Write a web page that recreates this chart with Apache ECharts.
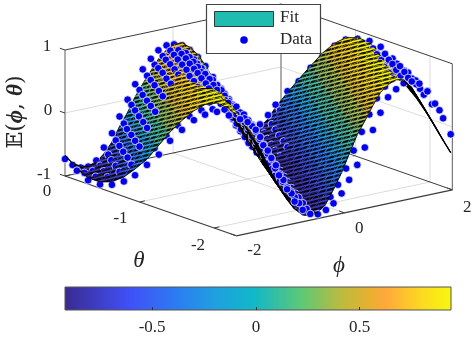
<!DOCTYPE html>
<html>
<head>
<meta charset="utf-8">
<style>html,body{margin:0;padding:0;background:#fff}#chart{width:474px;height:353px}</style>
<script src="https://cdn.jsdelivr.net/npm/echarts@6/dist/echarts.min.js"></script>
</head>
<body>
<div id="chart"></div>
<script>
// grid of the surface and of the dots
var phi = [-2,-1.86,-1.71,-1.57,-1.42,-1.28,-1.13,-0.99,-0.84,-0.7,-0.56,-0.41,-0.27,-0.12,0.02,0.17,0.31,0.46,0.6,0.74,0.89,1.03,1.18,1.32,1.47,1.61,1.76,1.9];
var theta = [0,-0.16,-0.31,-0.47,-0.63,-0.79,-0.94,-1.1,-1.26,-1.41,-1.57,-1.73,-1.88,-2.04,-2.2,-2.35];

// Fit, one row per theta
var fitZ = [
[-.67,-.82,-.90,-.92,-.88,-.78,-.62,-.40,-.20,.02,.20,.38,.54,.66,.72,.72,.62,.48,.28,.05,-.20,-.45,-.65,-.80,-.88,-.88,-.78,-.62],
[-.82,-.90,-.90,-.83,-.72,-.62,-.42,-.20,.02,.25,.45,.62,.66,.68,.60,.44,.27,.08,-.07,-.34,-.56,-.74,-.86,-.90,-.87,-.76,-.56,-.32],
[-.90,-.90,-.83,-.71,-.60,-.38,-.15,.08,.30,.50,.66,.68,.68,.60,.44,.27,.08,-.07,-.34,-.56,-.74,-.86,-.90,-.87,-.76,-.56,-.32,-.05],
[-.90,-.83,-.70,-.58,-.36,-.12,.12,.33,.54,.69,.70,.69,.61,.46,.28,.08,-.07,-.34,-.56,-.74,-.86,-.90,-.87,-.76,-.56,-.32,-.05,.23],
[-.83,-.69,-.56,-.33,-.10,.14,.36,.56,.72,.72,.70,.61,.47,.29,.08,-.07,-.34,-.56,-.74,-.86,-.90,-.87,-.76,-.56,-.32,-.05,.23,.50],
[-.69,-.54,-.31,-.08,.17,.39,.60,.75,.73,.71,.62,.48,.30,.09,-.08,-.34,-.56,-.74,-.86,-.90,-.87,-.76,-.56,-.32,-.05,.23,.50,.72],
[-.50,-.30,-.06,.20,.42,.62,.76,.75,.73,.65,.50,.31,.09,-.08,-.34,-.56,-.74,-.86,-.90,-.87,-.76,-.56,-.32,-.05,.23,.50,.72,.87],
[-.28,-.02,.24,.47,.67,.81,.78,.75,.66,.52,.33,.10,-.08,-.34,-.56,-.74,-.86,-.90,-.87,-.76,-.56,-.32,-.05,.23,.50,.72,.87,.94],
[.01,.27,.50,.70,.84,.82,.78,.69,.55,.35,.11,-.08,-.34,-.56,-.74,-.86,-.90,-.87,-.76,-.56,-.32,-.05,.23,.50,.72,.87,.94,.93],
[.28,.52,.72,.86,.86,.83,.73,.58,.38,.13,-.08,-.34,-.56,-.74,-.86,-.90,-.87,-.76,-.56,-.32,-.05,.23,.50,.72,.87,.94,.93,.82],
[.53,.73,.87,.94,.92,.83,.67,.45,.19,-.08,-.34,-.56,-.74,-.86,-.90,-.87,-.76,-.56,-.32,-.05,.23,.50,.72,.87,.94,.93,.82,.66],
[.75,.89,.96,.94,.84,.68,.46,.19,-.09,-.34,-.56,-.74,-.86,-.90,-.87,-.76,-.56,-.32,-.05,.23,.50,.72,.87,.94,.93,.84,.66,.47],
[.91,.98,.96,.86,.70,.47,.20,-.09,-.34,-.56,-.74,-.86,-.90,-.87,-.76,-.56,-.32,-.05,.23,.50,.72,.87,.94,.93,.82,.64,.50,.32],
[1,.98,.88,.71,.48,.20,-.09,-.34,-.56,-.74,-.86,-.90,-.87,-.76,-.56,-.32,-.05,.23,.50,.72,.87,.94,.93,.80,.70,.56,.34,.11],
[.98,.88,.71,.48,.20,-.09,-.34,-.56,-.74,-.86,-.90,-.87,-.76,-.56,-.32,-.05,.23,.50,.72,.87,.94,.93,.88,.75,.55,.33,.09,-.14],
[.88,.71,.48,.20,-.09,-.34,-.56,-.74,-.86,-.90,-.87,-.76,-.56,-.32,-.05,.23,.42,.64,.82,.92,.97,.94,.79,.56,.32,.10,-.15,-.37]
];

// Data dots, one row per theta
var dataZ = [
[-.73,-.85,-.92,-.93,-.86,-.68,-.48,-.24,0,.22,.43,.57,.68,.73,.72,.68,.58,.44,.27,.07,-.14,-.35,-.55,-.72,-.82,-.84,-.72,-.58],
[-.85,-.91,-.91,-.85,-.70,-.50,-.26,.01,.22,.42,.57,.68,.74,.72,.65,.52,.35,.15,-.06,-.32,-.56,-.74,-.86,-.92,-.89,-.77,-.58,-.30],
[-.94,-.91,-.85,-.70,-.50,-.26,.01,.23,.44,.60,.71,.76,.75,.67,.54,.37,.16,-.06,-.33,-.57,-.75,-.87,-.92,-.89,-.77,-.60,-.37,-.08],
[-.94,-.85,-.70,-.50,-.26,.01,.23,.45,.62,.73,.78,.77,.69,.56,.38,.16,-.07,-.33,-.57,-.75,-.87,-.92,-.89,-.77,-.60,-.37,-.11,.20],
[-.88,-.70,-.50,-.26,.01,.24,.45,.62,.74,.79,.78,.70,.56,.38,.17,-.07,-.33,-.57,-.75,-.87,-.92,-.89,-.77,-.60,-.37,-.11,.16,.45],
[-.76,-.52,-.26,.01,.24,.46,.63,.75,.80,.79,.71,.57,.39,.17,-.07,-.33,-.57,-.75,-.87,-.92,-.89,-.77,-.60,-.37,-.11,.16,.41,.68],
[-.60,-.38,-.13,.13,.36,.55,.70,.79,.81,.77,.65,.48,.28,.05,-.20,-.44,-.66,-.82,-.91,-.91,-.84,-.69,-.49,-.25,.02,.29,.53,.84],
[-.37,-.13,.13,.36,.56,.71,.80,.82,.78,.66,.49,.29,.05,-.20,-.44,-.66,-.82,-.91,-.91,-.84,-.69,-.49,-.25,.02,.29,.53,.73,.92],
[-.14,.13,.36,.56,.71,.80,.83,.78,.67,.50,.29,.05,-.20,-.44,-.66,-.82,-.91,-.91,-.84,-.69,-.49,-.25,.02,.29,.53,.73,.86,.95],
[.14,.36,.57,.72,.81,.84,.79,.67,.50,.29,.05,-.20,-.44,-.66,-.82,-.91,-.91,-.84,-.69,-.49,-.25,.02,.29,.53,.73,.86,.92,.92],
[.38,.57,.73,.82,.85,.80,.68,.51,.29,.05,-.20,-.44,-.66,-.82,-.91,-.91,-.84,-.69,-.49,-.25,.02,.29,.53,.73,.86,.92,.90,.80],
[.60,.73,.83,.86,.81,.69,.51,.30,.05,-.20,-.44,-.66,-.82,-.91,-.91,-.84,-.69,-.49,-.25,.02,.29,.53,.73,.86,.92,.90,.81,.67],
[.75,.81,.87,.86,.77,.62,.42,.18,-.08,-.34,-.58,-.76,-.88,-.92,-.89,-.77,-.60,-.37,-.11,.16,.41,.64,.80,.90,.92,.86,.73,.58],
[.86,.87,.86,.77,.62,.42,.18,-.08,-.34,-.58,-.76,-.88,-.92,-.89,-.77,-.60,-.37,-.11,.16,.41,.64,.80,.90,.92,.86,.73,.54,.48],
[.87,.86,.77,.62,.42,.18,-.08,-.34,-.58,-.76,-.88,-.92,-.89,-.77,-.60,-.37,-.11,.16,.41,.64,.80,.90,.92,.86,.73,.54,.36,.24],
[.87,.80,.65,.38,.15,-.15,-.40,-.62,-.78,-.87,-.90,-.86,-.78,-.65,-.46,-.25,0,.25,.50,.72,.82,.89,.89,.83,.68,.46,.20,-.08]
];

// axes
var phiTicks = [-2, 0, 2];
var thetaTicks = [0, -1, -2];
var zTicks = [-1, 0, 1];
var barTicks = [-0.5, 0, 0.5];
var barLimits = [-0.92, 0.94];
var barStops = [0, .09, .17, .30, .39, .49, .61, .71, .79, .83, .92, 1];
var barColors = ['#3a2a8f', '#3d3fc8', '#4050f8', '#2a80f0', '#20a0e0', '#10b8c8', '#5cc878', '#b8bc40', '#e8b030', '#ffa83c', '#fcd820', '#f8f810'];

var FONT = '"Liberation Serif", "Times New Roman", serif';
var phiEnd = 2, thetaEnd = -2.3;

// view of the 3D box, in page pixels
function project(p, t, z) {
    return [
        65 + 54 * (p + 2) - 74.5 * t,
        176 - 11.5 * (p + 2) - 26 * t - 63 * (z + 1)
    ];
}

// position on the floor seen from the camera, bigger means nearer
function floorDepth(p, t) {
    return -11.5 * p - 26 * t;
}

function hexRgb(h) {
    return [parseInt(h.substr(1, 2), 16), parseInt(h.substr(3, 2), 16), parseInt(h.substr(5, 2), 16)];
}

function zColor(z) {
    var f = (z - barLimits[0]) / (barLimits[1] - barLimits[0]);
    f = Math.max(0, Math.min(1, f));
    var k = 0;
    while (k < barStops.length - 2 && f > barStops[k + 1]) k++;
    var a = hexRgb(barColors[k]), b = hexRgb(barColors[k + 1]);
    var u = (f - barStops[k]) / (barStops[k + 1] - barStops[k]);
    return 'rgb(' + Math.round(a[0] + (b[0] - a[0]) * u) + ',' + Math.round(a[1] + (b[1] - a[1]) * u) + ',' + Math.round(a[2] + (b[2] - a[2]) * u) + ')';
}

// the fine dark mesh, as a tile laid over the cells
function meshTile() {
    var c = document.createElement('canvas');
    c.width = 16; c.height = 4;
    var g = c.getContext('2d');
    g.strokeStyle = 'rgba(0,0,0,0.9)';
    g.lineWidth = 2.2;
    for (var o = -4; o <= 8; o += 4) {
        g.beginPath();
        g.moveTo(0, o + 4);
        g.lineTo(16, o);
        g.stroke();
    }
    g.globalCompositeOperation = 'destination-out';
    g.lineWidth = 0.7;
    g.strokeStyle = 'rgba(0,0,0,0.8)';
    g.beginPath();
    g.moveTo(5, 4); g.lineTo(7, 0);
    g.moveTo(13, 4); g.lineTo(15, 0);
    g.stroke();
    return c;
}
var meshFill = { image: meshTile(), repeat: 'repeat' };

// draw list: cells and dots, far ones first
var drawList = [];
(function () {
    var i, j;
    for (j = 0; j < theta.length - 1; j++) {
        for (i = 0; i < phi.length - 1; i++) {
            drawList.push({
                kind: 'cell', i: i, j: j,
                depth: floorDepth((phi[i] + phi[i + 1]) / 2, (theta[j] + theta[j + 1]) / 2)
            });
        }
    }
    for (j = 0; j < theta.length; j++) {
        for (i = 0; i < phi.length; i++) {
            var lift = 90 * (dataZ[j][i] - fitZ[j][i]);
            lift = Math.max(-20, Math.min(30, lift));
            drawList.push({ kind: 'dot', i: i, j: j, depth: floorDepth(phi[i], theta[j]) + lift });
        }
    }
    drawList.sort(function (a, b) { return a.depth - b.depth; });
})();

function edgeLine(a, b) {
    return {
        type: 'line',
        shape: { x1: a[0], y1: a[1], x2: b[0], y2: b[1] },
        style: { stroke: '#000', lineWidth: 0.8 }
    };
}

function renderCell(api, it) {
    var i = it.i, j = it.j;
    var idx = [[i, j], [i + 1, j], [i + 1, j + 1], [i, j + 1]];
    var pts = [], low = 0, high = 0, sum = 0;
    idx.forEach(function (q, n) {
        var z = fitZ[q[1]][q[0]];
        pts.push(api.coord(project(phi[q[0]], theta[q[1]], z)));
        sum += z;
        if (z < fitZ[idx[low][1]][idx[low][0]]) low = n;
        if (z > fitZ[idx[high][1]][idx[high][0]]) high = n;
    });
    // squeezed or flipped cells: the mesh lines run together and read as black
    var area = 0;
    for (var n = 0; n < 4; n++) {
        var a = pts[n], b = pts[(n + 1) % 4];
        area += a[0] * b[1] - b[0] * a[1];
    }
    var flat = project(phi[i + 1], theta[j], 0), flat0 = project(phi[i], theta[j], 0), flat1 = project(phi[i], theta[j + 1], 0);
    var flatArea = Math.abs((flat[0] - flat0[0]) * (flat1[1] - flat0[1]) - (flat[1] - flat0[1]) * (flat1[0] - flat0[0]));
    var ratio = (area / 2) / flatArea;
    var children = [];
    if (Math.abs(ratio) < 0.22 || ratio < 0) {
        children.push({ type: 'polygon', shape: { points: pts }, style: { fill: '#000', stroke: '#000', lineWidth: 1.2 } });
    } else {
        var c0 = zColor(fitZ[idx[low][1]][idx[low][0]]), c1 = zColor(fitZ[idx[high][1]][idx[high][0]]);
        var fill = new echarts.graphic.LinearGradient(pts[low][0], pts[low][1], pts[high][0], pts[high][1],
            [{ offset: 0, color: c0 }, { offset: 1, color: c1 }], true);
        children.push({ type: 'polygon', shape: { points: pts }, style: { fill: fill, stroke: zColor(sum / 4), lineWidth: 0.6 } });
        children.push({ type: 'polygon', shape: { points: pts }, style: { fill: meshFill } });
    }
    // rim of the surface
    if (j === 0) children.push(edgeLine(pts[0], pts[1]));
    if (j === theta.length - 2) children.push(edgeLine(pts[2], pts[3]));
    if (i === 0) children.push(edgeLine(pts[3], pts[0]));
    if (i === phi.length - 2) children.push(edgeLine(pts[1], pts[2]));
    return { type: 'group', children: children };
}

function renderDot(api, it) {
    var c = api.coord(project(phi[it.i], theta[it.j], dataZ[it.j][it.i]));
    return {
        type: 'circle',
        shape: { cx: c[0], cy: c[1], r: 3.8 },
        style: { fill: '#0000ee', stroke: '#fff', lineWidth: 0.7 }
    };
}

// box lines, grid lines and ticks as [phi0, theta0, z0, phi1, theta1, z1, colour, width]
var boxLines = [];
(function () {
    var gridCol = '#dcdcdc', edge = '#3c3c3c', side = '#777';
    var p0 = phiTicks[0], p1 = phiEnd, t0 = thetaTicks[0], t1 = thetaEnd;
    // grid
    boxLines.push([p0, t0, 0, p1, t0, 0, gridCol, 1], [p1, t0, 0, p1, t1, 0, gridCol, 1]);
    boxLines.push([0, t0, -1, 0, t0, 1, gridCol, 1], [0, t0, -1, 0, t1, -1, gridCol, 1]);
    [-1, -2].forEach(function (t) {
        boxLines.push([p0, t, -1, p1, t, -1, gridCol, 1], [p1, t, -1, p1, t, 1, gridCol, 1]);
    });
    // box
    boxLines.push([p0, t0, -1, p0, t0, 1, side, 1.2], [p1, t0, -1, p1, t0, 1, side, 1.2], [p1, t1, -1, p1, t1, 1, side, 1.2]);
    boxLines.push([p0, t0, 1, p1, t0, 1, edge, 1], [p1, t0, 1, p1, t1, 1, edge, 1]);
    boxLines.push([p0, t0, -1, p1, t0, -1, edge, 1], [p1, t0, -1, p1, t1, -1, edge, 1]);
    boxLines.push([p0, t0, -1, p0, t1, -1, edge, 1.2], [p0, t1, -1, p1, t1, -1, edge, 1.2]);
    // ticks
    zTicks.forEach(function (z) { boxLines.push([p0, t0 + 0.07, z, p0, t0, z, edge, 1]); });
    thetaTicks.forEach(function (t) { boxLines.push([p0, t, -1, p0 + 0.1, t, -1, edge, 1]); });
    phiTicks.forEach(function (p) { boxLines.push([p, t1, -1, p, t1 + 0.07, -1, edge, 1]); });
})();

// text on the 3D axes as [phi, theta, z, text, dx, dy]
var axisText = [
    [-2, 0, 1, String(zTicks[2]), -18, -3], [-2, 0, 0, String(zTicks[1]), -17, -2], [-2, 0, -1, String(zTicks[0]), -21, -1],
    [-2, 0, -1, String(thetaTicks[0]), -18, 16], [-2, -1, -1, String(thetaTicks[1]), -19, 17], [-2, -2, -1, String(thetaTicks[2]), -16, 18],
    [-2, -2.3, -1, String(phiTicks[0]), 18, 15], [0, -2.3, -1, String(phiTicks[1]), 15, 16], [2, -2.3, -1, String(phiTicks[2]), 15, 18]
];

var gradientStops = barStops.map(function (s, k) { return { offset: s, color: barColors[k] }; });

var myChart = echarts.init(document.getElementById('chart'));
myChart.setOption({
    animation: false,
    grid: [
        { left: 0, right: 0, top: 0, bottom: 0 },
        {
            left: 65, width: 386, top: 287, height: 23, show: true,
            backgroundColor: new echarts.graphic.LinearGradient(0, 0, 1, 0, gradientStops),
            borderColor: '#555', borderWidth: 1
        }
    ],
    xAxis: [
        { gridIndex: 0, type: 'value', min: 0, max: 474, show: false },
        {
            gridIndex: 1, type: 'value', min: barLimits[0], max: barLimits[1], splitLine: { show: false },
            axisLine: { show: false },
            axisTick: { inside: true, length: 3, lineStyle: { color: '#333' }, customValues: barTicks },
            axisLabel: { customValues: barTicks, margin: 9, fontFamily: FONT, fontSize: 17, color: '#262626' }
        }
    ],
    yAxis: [
        { gridIndex: 0, type: 'value', min: 0, max: 353, inverse: true, show: false },
        { gridIndex: 1, type: 'value', min: 0, max: 1, show: false }
    ],
    series: [
        {
            type: 'custom', xAxisIndex: 0, yAxisIndex: 0, z: 1, silent: true,
            data: boxLines.map(function (l, k) { return [k]; }),
            renderItem: function (params, api) {
                var l = boxLines[params.dataIndex];
                var a = api.coord(project(l[0], l[1], l[2])), b = api.coord(project(l[3], l[4], l[5]));
                return {
                    type: 'line',
                    shape: { x1: a[0], y1: a[1], x2: b[0], y2: b[1] },
                    style: { stroke: l[6], lineWidth: l[7] }
                };
            }
        },
        {
            type: 'custom', xAxisIndex: 0, yAxisIndex: 0, z: 2, silent: true, progressive: 0,
            data: drawList.map(function (d, k) { return [k]; }),
            renderItem: function (params, api) {
                var it = drawList[params.dataIndex];
                return it.kind === 'cell' ? renderCell(api, it) : renderDot(api, it);
            }
        },
        {
            type: 'custom', xAxisIndex: 0, yAxisIndex: 0, z: 3, silent: true,
            data: axisText.map(function (l, k) { return [k]; }),
            renderItem: function (params, api) {
                var l = axisText[params.dataIndex];
                var a = api.coord(project(l[0], l[1], l[2]));
                return {
                    type: 'text',
                    style: {
                        x: a[0] + l[4], y: a[1] + l[5], text: l[3], fontFamily: FONT, fontSize: 17,
                        fill: '#262626', align: 'center', verticalAlign: 'middle'
                    }
                };
            }
        }
    ],
    graphic: [
        // legend
        { type: 'rect', z: 50, shape: { x: 206.5, y: 4.5, width: 114, height: 49 }, style: { fill: '#fff', stroke: '#444', lineWidth: 1.2 } },
        { type: 'rect', z: 51, shape: { x: 214.5, y: 11.5, width: 59, height: 15 }, style: { fill: '#1fbcaf', stroke: '#2b3b3b', lineWidth: 1 } },
        { type: 'circle', z: 51, shape: { cx: 244, cy: 40, r: 3.8 }, style: { fill: '#0000ee' } },
        { type: 'text', z: 51, x: 280, y: 18, style: { text: 'Fit', fontFamily: FONT, fontSize: 17, fill: '#262626', verticalAlign: 'middle' } },
        { type: 'text', z: 51, x: 280, y: 40, style: { text: 'Data', fontFamily: FONT, fontSize: 17, fill: '#262626', verticalAlign: 'middle' } },
        // axis titles
        { type: 'text', z: 51, x: 139, y: 261, style: { text: 'θ', fontFamily: FONT, fontStyle: 'italic', fontSize: 23, fill: '#262626', align: 'center', verticalAlign: 'middle' } },
        { type: 'text', z: 51, x: 339, y: 266, style: { text: 'ϕ', fontFamily: FONT, fontStyle: 'italic', fontSize: 23, fill: '#262626', align: 'center', verticalAlign: 'middle' } },
        {
            type: 'text', z: 51, x: 16, y: 112, rotation: Math.PI / 2,
            style: {
                text: '{a|𝔼(}{b|ϕ}{a|, }{b|θ}{a|)}', align: 'center', verticalAlign: 'middle',
                rich: {
                    a: { fontFamily: '"DejaVu Serif", ' + FONT, fontSize: 22, fill: '#262626' },
                    b: { fontFamily: FONT, fontStyle: 'italic', fontWeight: 'bold', fontSize: 23, fill: '#262626' }
                }
            }
        }
    ]
});
</script>
</body>
</html>
